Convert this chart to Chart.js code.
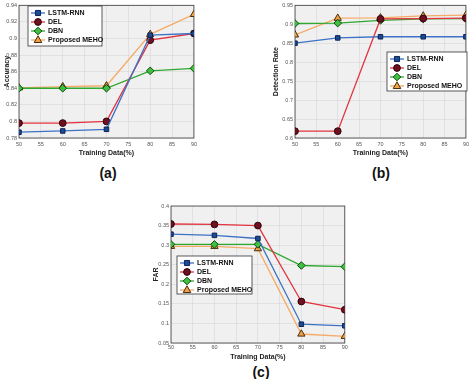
<!DOCTYPE html>
<html>
<head>
<meta charset="utf-8">
<script src="https://cdn.jsdelivr.net/npm/chart.js@4.4.1/dist/chart.umd.min.js"></script>
<style>
body { margin: 0; background: #fff; width: 474px; height: 379px; position: relative; overflow: hidden; font-family: "Liberation Sans", Arial, sans-serif; }
canvas { position: absolute; }
.cap { position: absolute; font-weight: bold; font-size: 14px; color: #111; transform: translate(-50%, -50%); }
</style>
</head>
<body>
<canvas id="chartA" width="200" height="160" style="left:0;top:0"></canvas>
<canvas id="chartB" width="206" height="160" style="left:266px;top:0"></canvas>
<canvas id="chartC" width="210" height="166" style="left:140px;top:196px"></canvas>
<div class="cap" style="left:108px;top:173px">(a)</div>
<div class="cap" style="left:381px;top:173px">(b)</div>
<div class="cap" style="left:261px;top:372px">(c)</div>
<script>
// Données
const trainingData = [50, 60, 70, 80, 90];
const seriesNames = ['LSTM-RNN', 'DEL', 'DBN', 'Proposed MEHO'];

// (a) Accuracy
const accLstm = [0.787, 0.7885, 0.7905, 0.904, 0.906];
const accDel = [0.798, 0.798, 0.800, 0.898, 0.906];
const accDbn = [0.840, 0.840, 0.840, 0.861, 0.864];
const accMeho = [0.8405, 0.842, 0.843, 0.905, 0.929];

// (b) Detection Rate
const drLstm = [0.850, 0.864, 0.867, 0.867, 0.867];
const drDel = [0.618, 0.618, 0.914, 0.915, 0.916];
const drDbn = [0.902, 0.903, 0.910, 0.914, 0.915];
const drMeho = [0.872, 0.916, 0.917, 0.922, 0.924];

// (c) FAR
const farLstm = [0.328, 0.325, 0.317, 0.098, 0.094];
const farDel = [0.354, 0.353, 0.350, 0.156, 0.135];
const farDbn = [0.302, 0.302, 0.302, 0.248, 0.245];
const farMeho = [0.297, 0.297, 0.291, 0.073, 0.067];

// Graduations
const xTicks = [50, 55, 60, 65, 70, 75, 80, 85, 90];
const accTicks = [0.78, 0.8, 0.82, 0.84, 0.86, 0.88, 0.9, 0.92, 0.94];
const drTicks = [0.6, 0.65, 0.7, 0.75, 0.8, 0.85, 0.9, 0.95];
const farTicks = [0.05, 0.1, 0.15, 0.2, 0.25, 0.3, 0.35, 0.4];

// Style de chaque série
const styles = [
    { line: '#3d72c4', fill: '#1d4a94', border: '#0b2455', shape: 'rect', r: 3.2 },
    { line: '#e2343f', fill: '#6e1020', border: '#2e050c', shape: 'circle', r: 3.4 },
    { line: '#2fa830', fill: '#40c040', border: '#0c4a0e', shape: 'rectRot', r: 3.8 },
    { line: '#f5aa66', fill: '#eea04a', border: '#4a2c08', shape: 'triangle', r: 4.2 }
];

function drawMarker(ctx, shape, x, y, r, fill, stroke) {
    ctx.save();
    ctx.fillStyle = fill;
    ctx.strokeStyle = stroke;
    ctx.lineWidth = 1;
    ctx.beginPath();
    if (shape === 'rect') {
        ctx.rect(x - r * 0.8, y - r * 0.8, r * 1.6, r * 1.6);
    } else if (shape === 'circle') {
        ctx.arc(x, y, r, 0, Math.PI * 2);
    } else if (shape === 'rectRot') {
        ctx.moveTo(x, y - r); ctx.lineTo(x + r, y); ctx.lineTo(x, y + r); ctx.lineTo(x - r, y); ctx.closePath();
    } else {
        ctx.moveTo(x, y - r); ctx.lineTo(x + r * 0.9, y + r * 0.6); ctx.lineTo(x - r * 0.9, y + r * 0.6); ctx.closePath();
    }
    ctx.fill();
    ctx.stroke();
    ctx.restore();
}

// Fond gris + cadre façon MATLAB
const plotFrame = {
    id: 'plotFrame',
    beforeDraw(chart) {
        const a = chart.chartArea;
        chart.ctx.save();
        chart.ctx.fillStyle = '#f0f0f0';
        chart.ctx.fillRect(a.left, a.top, a.right - a.left, a.bottom - a.top);
        chart.ctx.restore();
    },
    beforeDatasetsDraw(chart) {
        const a = chart.chartArea;
        chart.ctx.save();
        chart.ctx.strokeStyle = '#3a3a3a';
        chart.ctx.lineWidth = 0.8;
        chart.ctx.strokeRect(a.left, a.top, a.right - a.left, a.bottom - a.top);
        chart.ctx.restore();
    }
};

// Légende dessinée à l'intérieur de la zone de tracé
const innerLegend = {
    id: 'innerLegend',
    afterDraw(chart, args, opts) {
        const ctx = chart.ctx;
        ctx.save();
        ctx.fillStyle = '#fff';
        ctx.strokeStyle = '#333';
        ctx.lineWidth = 0.8;
        ctx.fillRect(opts.x, opts.y, opts.w, opts.h);
        ctx.strokeRect(opts.x, opts.y, opts.w, opts.h);
        chart.data.datasets.forEach((ds, i) => {
            const st = styles[i];
            const y = opts.y + 7 + i * 9;
            ctx.strokeStyle = st.line;
            ctx.lineWidth = 1.3;
            ctx.beginPath();
            ctx.moveTo(opts.x + 3, y);
            ctx.lineTo(opts.x + 17, y);
            ctx.stroke();
            drawMarker(ctx, st.shape, opts.x + 10, y, st.r, st.fill, st.border);
            ctx.fillStyle = '#111';
            ctx.font = 'bold 7px "Liberation Sans", Arial';
            ctx.textBaseline = 'middle';
            ctx.fillText(ds.label, opts.x + 20, y + 0.5);
        });
        ctx.restore();
    }
};

function makeChart(id, values, yTicks, yTitle, cfg) {
    const ctx = document.getElementById(id).getContext('2d');
    return new Chart(ctx, {
        type: 'line',
        data: {
            datasets: values.map((vals, i) => ({
                label: seriesNames[i],
                data: trainingData.map((x, j) => ({ x: x, y: vals[j] })),
                borderColor: styles[i].line,
                borderWidth: 1.3,
                pointStyle: styles[i].shape,
                pointRadius: styles[i].r,
                pointBackgroundColor: styles[i].fill,
                pointBorderColor: styles[i].border,
                pointBorderWidth: 1,
                tension: 0,
                fill: false
            }))
        },
        options: {
            responsive: false,
            animation: false,
            layout: { padding: cfg.padding },
            plugins: {
                legend: { display: false },
                tooltip: { enabled: false },
                innerLegend: cfg.legend
            },
            scales: {
                x: {
                    type: 'linear',
                    min: xTicks[0],
                    max: xTicks[xTicks.length - 1],
                    afterBuildTicks: s => { s.ticks = xTicks.map(v => ({ value: v })); },
                    afterFit: s => { s.height = cfg.xHeight; },
                    grid: { color: '#d6d6d6', lineWidth: 0.6, drawTicks: false },
                    border: { display: false },
                    ticks: { padding: cfg.xTickPad, color: '#555', font: { size: 5.5, family: '"Liberation Sans", Arial' } },
                    title: {
                        display: true, text: 'Training Data(%)', color: '#222',
                        font: { size: 7, weight: 'bold', family: '"Liberation Sans", Arial' },
                        padding: { top: 0, bottom: cfg.xTitlePad }
                    }
                },
                y: {
                    type: 'linear',
                    min: yTicks[0],
                    max: yTicks[yTicks.length - 1],
                    afterBuildTicks: s => { s.ticks = yTicks.map(v => ({ value: v })); },
                    afterFit: s => { s.width = cfg.yWidth; },
                    grid: { color: '#d6d6d6', lineWidth: 0.6, drawTicks: false },
                    border: { display: false },
                    ticks: {
                        padding: 2, color: '#555', font: { size: 5.5, family: '"Liberation Sans", Arial' },
                        callback: v => String(+v.toFixed(2))
                    },
                    title: {
                        display: true, text: yTitle, color: '#222',
                        font: { size: 7, weight: 'bold', family: '"Liberation Sans", Arial' },
                        padding: { top: cfg.yTitlePad, bottom: 0 }
                    }
                }
            }
        },
        plugins: [plotFrame, innerLegend]
    });
}

makeChart('chartA', [accLstm, accDel, accDbn, accMeho], accTicks, 'Accuracy', {
    padding: { top: 3, right: 4, left: 0, bottom: 0 },
    yWidth: 19, xHeight: 22, xTickPad: 3, xTitlePad: 3, yTitlePad: 3,
    legend: { x: 28, y: 6, w: 74, h: 40 }
});

makeChart('chartB', [drLstm, drDel, drDbn, drMeho], drTicks, 'Detection Rate', {
    padding: { top: 3, right: 4, left: 0, bottom: 0 },
    yWidth: 29, xHeight: 22, xTickPad: 3, xTitlePad: 3, yTitlePad: 6,
    legend: { x: 121, y: 52, w: 80, h: 39 }
});

makeChart('chartC', [farLstm, farDel, farDbn, farMeho], farTicks, 'FAR', {
    padding: { top: 10, right: 5, left: 0, bottom: 0 },
    yWidth: 31, xHeight: 19, xTickPad: 1, xTitlePad: 1, yTitlePad: 12,
    legend: { x: 37, y: 60, w: 75, h: 38 }
});
</script>
</body>
</html>
